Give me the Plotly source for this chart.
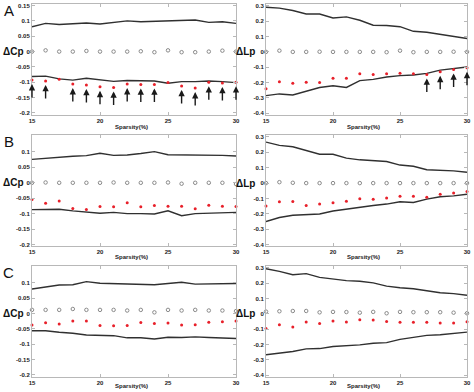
import plotly.graph_objects as go

# ---------------- data ----------------
sparsity = list(range(15, 31))

A_cp_upper = [0.081, 0.092, 0.088, 0.090, 0.093, 0.090, 0.094, 0.100, 0.097, 0.098, 0.100, 0.100, 0.103, 0.095, 0.097, 0.092]
A_cp_lower = [-0.081, -0.080, -0.089, -0.093, -0.087, -0.093, -0.097, -0.094, -0.095, -0.096, -0.103, -0.098, -0.098, -0.096, -0.098, -0.101]
A_cp_null = [0.000, 0.004, 0.000, 0.000, 0.002, 0.000, 0.000, 0.000, 0.001, -0.002, 0.004, -0.002, -0.002, 0.000, 0.003, 0.000]
A_cp_obs = [-0.093, -0.096, -0.090, -0.106, -0.109, -0.115, -0.117, -0.106, -0.107, -0.107, -0.101, -0.112, -0.119, -0.100, -0.102, -0.100]
A_cp_arrows = [15, 16, 18, 19, 20, 21, 22, 23, 24, 26, 27, 28, 29, 30]

A_lp_upper = [0.291, 0.285, 0.270, 0.247, 0.247, 0.221, 0.228, 0.206, 0.174, 0.172, 0.164, 0.134, 0.128, 0.115, 0.104, 0.087]
A_lp_lower = [-0.285, -0.274, -0.281, -0.257, -0.232, -0.221, -0.232, -0.187, -0.179, -0.164, -0.155, -0.151, -0.140, -0.119, -0.108, -0.098]
A_lp_null = [0.000, 0.008, 0.000, 0.000, 0.001, 0.000, 0.000, 0.000, 0.000, -0.002, 0.008, -0.002, 0.000, 0.000, 0.001, 0.000]
A_lp_obs = [-0.240, -0.194, -0.204, -0.198, -0.200, -0.172, -0.172, -0.143, -0.147, -0.143, -0.140, -0.143, -0.147, -0.130, -0.115, -0.104]
A_lp_arrows = [27, 28, 29, 30]

B_cp_upper = [0.076, 0.080, 0.084, 0.086, 0.088, 0.096, 0.089, 0.090, 0.095, 0.101, 0.091, 0.091, 0.090, 0.089, 0.089, 0.087]
B_cp_lower = [-0.087, -0.087, -0.086, -0.091, -0.095, -0.099, -0.096, -0.100, -0.100, -0.101, -0.091, -0.107, -0.100, -0.099, -0.097, -0.096]
B_cp_null = [0.000, 0.001, 0.000, 0.000, 0.000, 0.000, 0.001, 0.000, 0.000, 0.000, 0.001, -0.003, 0.000, 0.000, 0.000, -0.004]
B_cp_obs = [-0.054, -0.066, -0.059, -0.083, -0.087, -0.077, -0.078, -0.065, -0.078, -0.074, -0.076, -0.076, -0.084, -0.073, -0.076, -0.077]

B_lp_upper = [0.266, 0.245, 0.236, 0.213, 0.187, 0.187, 0.162, 0.151, 0.145, 0.140, 0.117, 0.109, 0.087, 0.085, 0.079, 0.070]
B_lp_lower = [-0.249, -0.223, -0.209, -0.204, -0.200, -0.181, -0.168, -0.157, -0.145, -0.136, -0.121, -0.126, -0.104, -0.089, -0.083, -0.072]
B_lp_null = [0.000, 0.006, 0.002, 0.000, 0.000, 0.000, 0.000, 0.000, 0.000, 0.000, 0.000, 0.000, 0.000, 0.000, 0.000, 0.000]
B_lp_obs = [-0.149, -0.121, -0.119, -0.145, -0.136, -0.128, -0.117, -0.102, -0.104, -0.096, -0.085, -0.085, -0.091, -0.072, -0.064, -0.055]

C_cp_upper = [0.080, 0.086, 0.093, 0.094, 0.104, 0.099, 0.098, 0.098, 0.097, 0.094, 0.098, 0.102, 0.096, 0.097, 0.096, 0.098]
C_cp_lower = [-0.056, -0.056, -0.061, -0.064, -0.070, -0.071, -0.072, -0.079, -0.079, -0.083, -0.077, -0.078, -0.076, -0.078, -0.079, -0.081]
C_cp_null = [0.012, 0.012, 0.012, 0.015, 0.012, 0.012, 0.012, 0.010, 0.012, 0.004, 0.012, 0.010, 0.012, 0.010, 0.010, 0.008]
C_cp_obs = [-0.037, -0.030, -0.034, -0.024, -0.024, -0.039, -0.040, -0.039, -0.029, -0.032, -0.031, -0.037, -0.036, -0.028, -0.027, -0.024]

C_lp_upper = [0.294, 0.277, 0.255, 0.262, 0.238, 0.228, 0.217, 0.213, 0.202, 0.181, 0.170, 0.164, 0.153, 0.138, 0.132, 0.121]
C_lp_lower = [-0.266, -0.255, -0.245, -0.228, -0.226, -0.213, -0.209, -0.202, -0.191, -0.187, -0.166, -0.153, -0.140, -0.136, -0.128, -0.119]
C_lp_null = [0.015, 0.017, 0.019, 0.019, 0.010, 0.013, 0.012, 0.008, 0.013, 0.004, 0.013, 0.011, 0.011, 0.011, 0.008, 0.004]
C_lp_obs = [-0.096, -0.070, -0.085, -0.053, -0.062, -0.047, -0.053, -0.038, -0.040, -0.049, -0.055, -0.055, -0.055, -0.060, -0.060, -0.051]

x_ticks = [15, 20, 25, 30]
cp_ticks_A = [-0.2, -0.15, -0.1, -0.05, 0, 0.05, 0.1, 0.15]
cp_ticks_BC = [-0.2, -0.15, -0.1, -0.05, 0, 0.05, 0.1]
lp_ticks = [-0.4, -0.3, -0.2, -0.1, 0, 0.1, 0.2, 0.3]

panel_letters = ["A", "B", "C"]
x_title = "Sparsity(%)"
cp_label = "ΔCp"
lp_label = "ΔLp"

panels = [
    # (row, col, upper, lower, null, obs, arrows, ticks, ylabel)
    (0, 0, A_cp_upper, A_cp_lower, A_cp_null, A_cp_obs, A_cp_arrows, cp_ticks_A, cp_label),
    (0, 1, A_lp_upper, A_lp_lower, A_lp_null, A_lp_obs, A_lp_arrows, lp_ticks, lp_label),
    (1, 0, B_cp_upper, B_cp_lower, B_cp_null, B_cp_obs, [], cp_ticks_BC, cp_label),
    (1, 1, B_lp_upper, B_lp_lower, B_lp_null, B_lp_obs, [], lp_ticks, lp_label),
    (2, 0, C_cp_upper, C_cp_lower, C_cp_null, C_cp_obs, [], cp_ticks_BC, cp_label),
    (2, 1, C_lp_upper, C_lp_lower, C_lp_null, C_lp_obs, [], lp_ticks, lp_label),
]

# ---------------- layout geometry ----------------
W, H = 474, 392
col_px = [(32, 236), (266, 467)]
row_px = [(4, 114.5), (135, 246), (266, 376.5)]
xtitle_gap = [12.5, 10.5, 9.5]
cp_range = [-0.205, 0.155]
lp_range = [-0.408, 0.312]
label_right_px = [25.5, 257]

FONT = "Liberation Sans, Arial, sans-serif"
tickfont = dict(family=FONT, size=6, color="#222", weight="bold")
axis_col = "#b8b8b8"
line_col = "#303030"

fig = go.Figure()
annotations = []

for i, (r, c, up, lo, nul, obs, arrows, ticks, ylab) in enumerate(panels):
    n = i + 1
    xa = "x" if n == 1 else f"x{n}"
    ya = "y" if n == 1 else f"y{n}"
    for series in (up, lo):
        fig.add_trace(go.Scatter(x=sparsity, y=series, mode="lines",
                                 line=dict(color=line_col, width=1.4),
                                 xaxis=xa, yaxis=ya, showlegend=False, cliponaxis=False))
    fig.add_trace(go.Scatter(x=sparsity, y=nul, mode="markers",
                             marker=dict(symbol="circle-open", size=3.5, color="#8a8a8a",
                                         line=dict(width=1)),
                             xaxis=xa, yaxis=ya, showlegend=False, cliponaxis=False))
    fig.add_trace(go.Scatter(x=sparsity, y=obs, mode="markers",
                             marker=dict(symbol="circle", size=3, color="#e8202a"),
                             xaxis=xa, yaxis=ya, showlegend=False, cliponaxis=False))

    x0, x1 = col_px[c]
    y0, y1 = row_px[r]
    rng = cp_range if c == 0 else lp_range
    xkey = "xaxis" if n == 1 else f"xaxis{n}"
    ykey = "yaxis" if n == 1 else f"yaxis{n}"
    fig.layout[xkey] = dict(
        domain=[x0 / W, x1 / W], anchor=ya, range=[15, 30], automargin=False,
        tickvals=x_ticks, ticktext=[str(v) for v in x_ticks], ticklabeloverflow="allow",
        ticks="inside", ticklen=3, tickcolor=axis_col, tickfont=tickfont,
        showline=True, linecolor=axis_col, linewidth=1, mirror="ticks",
        showgrid=False, zeroline=False,
    )
    fig.layout[ykey] = dict(
        domain=[1 - y1 / H, 1 - y0 / H], anchor=xa, range=rng, automargin=False,
        tickvals=ticks, ticktext=[f"{v:g}" for v in ticks], ticklabeloverflow="allow",
        ticks="inside", ticklen=3, tickcolor=axis_col, tickfont=tickfont,
        showline=True, linecolor=axis_col, linewidth=1, mirror="ticks",
        showgrid=False, zeroline=False,
    )
    # x-axis title
    annotations.append(dict(text=f"<b>{x_title}</b>", xref="paper", x=(x0 + x1) / 2 / W - 0.006,
                            yref="paper", y=1 - (y1 + xtitle_gap[r]) / H,
                            xanchor="center", yanchor="middle", showarrow=False,
                            font=dict(family=FONT, size=6, color="#222")))
    # y label (horizontal) at zero level
    annotations.append(dict(text=f"<b>{ylab}</b>", xref="paper", x=label_right_px[c] / W,
                            xanchor="right", yref=ya, y=0, yanchor="middle",
                            showarrow=False, font=dict(family=FONT, size=10, color="#111")))
    # arrows under significant observations
    for s in arrows:
        yv = obs[sparsity.index(s)]
        annotations.append(dict(text="", xref=xa, yref=ya, x=s, y=yv, yshift=-4,
                                ax=0, ay=15, showarrow=True, arrowhead=2, arrowsize=0.9,
                                arrowwidth=1.4, arrowcolor="#1a1a1a"))

for r, letter in enumerate(panel_letters):
    annotations.append(dict(text=letter, xref="paper", yref="paper",
                            x=8.5 / W, y=1 - (row_px[r][0] + 6.5) / H,
                            xanchor="center", yanchor="middle", showarrow=False,
                            font=dict(family=FONT, size=15, color="#111")))

fig.update_layout(
    width=W, height=H, margin=dict(l=0, r=0, t=0, b=0),
    paper_bgcolor="white", plot_bgcolor="white",
    annotations=annotations, showlegend=False, hovermode=False,
)

fig.write_html(
    "out.html",
    config={"displayModeBar": False, "staticPlot": True},
    post_script="document.body.style.margin='0';document.body.style.padding='0';"
                "document.documentElement.style.overflow='hidden';",
)
